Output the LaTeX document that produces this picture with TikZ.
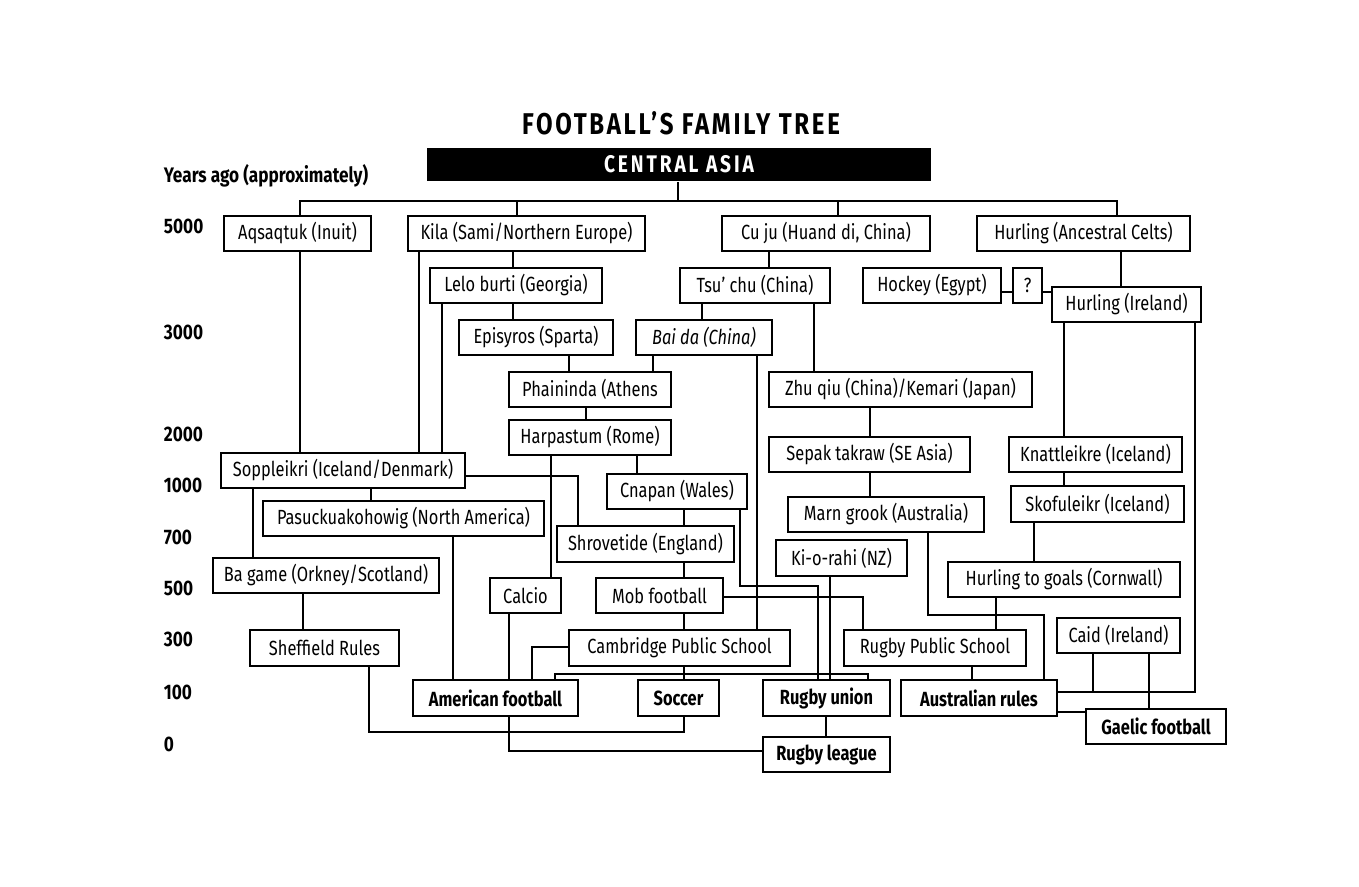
\documentclass[tikz,border=0pt]{standalone}
\usepackage{fontspec}
\setmainfont{Fira Sans}[FakeStretch=0.8]
\newfontfamily\titlefont{Fira Sans}[FakeStretch=0.8,LetterSpace=9]
\newfontfamily\capfont{Fira Sans}[FakeStretch=0.8,LetterSpace=12]
\newfontfamily\yearfont{Fira Sans}[FakeStretch=0.82]
\newcommand\mybox[7][]{\node[box,#1, minimum width={#5-#3}, minimum height={#6-#4}] (#2) at ({(#3+#5)/2},{(#4+#6)/2}) {#7};}
\tikzset{
  box/.style={draw, line width=1.8pt, inner sep=0pt, fill=white, font=\fontsize{20.5}{22}\selectfont},
  strong/.style={font=\bfseries\fontsize{20.5}{22}\selectfont},
  yearlab/.style={anchor=west, inner sep=0pt, font=\yearfont\bfseries\fontsize{21}{22}\selectfont},
}
\begin{document}
\begin{tikzpicture}[x=1pt,y=-1pt,line width=1.8pt]
\fill[white] (0,0) rectangle (1359,886);
\useasboundingbox (0,0) rectangle (1359,886);
% headings
\node[font=\titlefont\bfseries\fontsize{30}{30}\selectfont] (title) at (681,123) {FOOTBALL’S FAMILY TREE};
\node[fill=black, minimum width=504, minimum height=33, inner sep=0pt, text=white, font=\capfont\bfseries\fontsize{24}{24}\selectfont] (ca) at (679,164.5) {CENTRAL ASIA};
\node[yearlab] (yrs) at (163,176) {Years ago (approximately)};
\node[yearlab] (y5000) at (163,226) {5000};
\node[yearlab] (y3000) at (163,332) {3000};
\node[yearlab] (y2000) at (163,434) {2000};
\node[yearlab] (y1000) at (163,485) {1000};
\node[yearlab] (y700) at (163,537) {700};
\node[yearlab] (y500) at (163,588) {500};
\node[yearlab] (y300) at (163,639) {300};
\node[yearlab] (y100) at (163,692) {100};
\node[yearlab] (y0) at (163,744) {0};
% boxes
\mybox{aqs}{224}{216}{371}{251}{Aqsaqtuk (Inuit)}
\mybox{kila}{408}{216}{645}{251}{Kila (Sami/Northern Europe)}
\mybox{cuju}{722}{216}{930}{251}{Cu ju (Huand di, China)}
\mybox{hac}{977}{216}{1190}{251}{Hurling (Ancestral Celts)}
\mybox{lelo}{430}{268}{602}{303}{Lelo burti (Georgia)}
\mybox{tsu}{680}{268}{830}{303}{Tsu’ chu (China)}
\mybox{hockey}{863}{268}{1001}{303}{Hockey (Egypt)}
\mybox{q}{1013}{268}{1042}{303}{?}
\mybox{hire}{1052}{287}{1201}{322}{Hurling (Ireland)}
\mybox{epi}{459}{320}{613}{355}{Episyros (Sparta)}
\mybox{baida}{636}{320}{772}{355}{\itshape Bai da (China)}
\mybox{phai}{509}{372}{671}{407}{Phaininda (Athens}
\mybox{harp}{509}{420}{671}{455}{Harpastum (Rome)}
\mybox{zhu}{769}{372}{1032}{407}{Zhu qiu (China)/Kemari (Japan)}
\mybox{sepak}{769}{437}{970}{472}{Sepak takraw (SE Asia)}
\mybox{knatt}{1009}{437}{1182}{472}{Knattleikre (Iceland)}
\mybox{sopp}{221}{453}{465}{488}{Soppleikri (Iceland/Denmark)}
\mybox{cnapan}{607}{474}{747}{509}{Cnapan (Wales)}
\mybox{marn}{788}{497}{984}{532}{Marn grook (Australia)}
\mybox{skof}{1011}{486}{1184}{522}{Skofuleikr (Iceland)}
\mybox{pasu}{263}{501}{544}{536}{Pasuckuakohowig (North America)}
\mybox{shrove}{557}{526}{734}{562}{Shrovetide (England)}
\mybox{kio}{776}{540}{907}{576}{Ki-o-rahi (NZ)}
\mybox{bagame}{213}{558}{439}{593}{Ba game (Orkney/Scotland)}
\mybox{hgoal}{948}{562}{1180}{597}{Hurling to goals (Cornwall)}
\mybox{calcio}{490}{578}{561}{613}{Calcio}
\mybox{mob}{596}{578}{723}{613}{Mob football}
\mybox{sheff}{250}{630}{399}{666}{Sheffield Rules}
\mybox{camb}{569}{630}{790}{666}{Cambridge Public School}
\mybox{rugbyps}{844}{630}{1026}{666}{Rugby Public School}
\mybox{caid}{1057}{618}{1180}{653}{Caid (Ireland)}
\mybox[strong]{amfoot}{413}{680}{578}{716}{American football}
\mybox[strong]{soccer}{638}{680}{719}{716}{Soccer}
\mybox[strong]{rugunion}{763}{680}{890}{716}{Rugby union}
\mybox[strong]{ausrules}{901}{680}{1057}{716}{Australian rules}
\mybox[strong]{gaelic}{1086}{709}{1226}{744}{Gaelic football}
\mybox[strong]{rleague}{763}{737}{890}{772}{Rugby league}
% connectors
\coordinate (bus) at (678,201);
\draw (678,0 |- ca.south) -- (bus);
\draw (300,0 |- aqs.north) |- (1117,0 |- bus) -- (1117,0 |- hac.north);
\draw (517,0 |- bus) -- (517,0 |- kila.north);
\draw (838,0 |- bus) -- (838,0 |- cuju.north);
\draw (300,0 |- aqs.south) -- (300,0 |- sopp.north);
\draw (419,0 |- kila.south) -- (419,0 |- sopp.north);
\draw (513,0 |- kila.south) -- (513,0 |- lelo.north);
\draw (442,0 |- lelo.south) -- (442,0 |- sopp.north);
\draw (513,0 |- lelo.south) -- (513,0 |- epi.north);
\draw (569,0 |- epi.south) -- (569,0 |- phai.north);
\draw (653,0 |- baida.south) -- (653,0 |- phai.north);
\draw (757,0 |- baida.south) -- (757,0 |- camb.north);
\draw (586,0 |- phai.south) -- (586,0 |- harp.north);
\draw (551,0 |- harp.south) -- (551,0 |- calcio.north);
\draw (637,0 |- harp.south) -- (637,0 |- cnapan.north);
\draw (769,0 |- cuju.south) -- (769,0 |- tsu.north);
\draw (702,0 |- tsu.south) -- (702,0 |- baida.north);
\draw (814,0 |- tsu.south) -- (814,0 |- zhu.north);
\draw (1121,0 |- hac.south) -- (1121,0 |- hire.north);
\draw (hockey.east |- 0,292) -- (q.west |- 0,292);
\draw (q.east |- 0,292) -- (hire.west |- 0,292);
\draw (1064,0 |- hire.south) -- (1064,0 |- knatt.north);
\draw (1195,0 |- hire.south) |- (ausrules.east |- 0,692);
\draw (870,0 |- zhu.south) -- (870,0 |- sepak.north);
\draw (870,0 |- sepak.south) -- (870,0 |- marn.north);
\draw (1064,0 |- knatt.south) -- (1064,0 |- skof.north);
\draw (1034,0 |- skof.south) -- (1034,0 |- hgoal.north);
\draw (sopp.east |- 0,476) -| (578,0 |- shrove.north);
\draw (253,0 |- sopp.south) -- (253,0 |- bagame.north);
\draw (371,0 |- sopp.south) -- (371,0 |- pasu.north);
\draw (684,0 |- cnapan.south) -- (684,0 |- shrove.north);
\draw (740,0 |- cnapan.south) |- (818,586) -- (818,0 |- rugunion.north);
\draw (684,0 |- shrove.south) -- (684,0 |- mob.north);
\draw (mob.east |- 0,597) -| (863,0 |- rugbyps.north);
\draw (684,0 |- mob.south) -- (684,0 |- camb.north);
\draw (830,0 |- kio.south) -- (830,0 |- rugunion.north);
\draw (928,0 |- marn.south) |- (1044,615) -- (1044,0 |- ausrules.north);
\draw (996,0 |- hgoal.south) -- (996,0 |- rugbyps.north);
\draw (972,0 |- rugbyps.south) -- (972,0 |- ausrules.north);
\draw (1093,0 |- caid.south) -- (1093,692);
\draw (1149,0 |- caid.south) -- (1149,0 |- gaelic.north);
\draw (ausrules.east |- 0,712) -- (gaelic.west |- 0,712);
\draw (453,0 |- pasu.south) -- (453,0 |- amfoot.north);
\draw (303,0 |- bagame.south) -- (303,0 |- sheff.north);
\draw (369,0 |- sheff.south) |- (684,732) -- (684,0 |- soccer.south);
\draw (509,0 |- calcio.south) -- (509,0 |- amfoot.north);
\draw (camb.west |- 0,647) -| (532,0 |- amfoot.north);
\coordinate (cb) at (684,674);
\draw (684,0 |- camb.south) -- (cb);
\draw (555,0 |- amfoot.north) |- (868,0 |- cb) -- (868,0 |- rugunion.north);
\draw (cb) -- (684,0 |- soccer.north);
\draw (509,0 |- amfoot.south) |- (rleague.west |- 0,751);
\draw (826,0 |- rugunion.south) -- (826,0 |- rleague.north);
\end{tikzpicture}
\end{document}
